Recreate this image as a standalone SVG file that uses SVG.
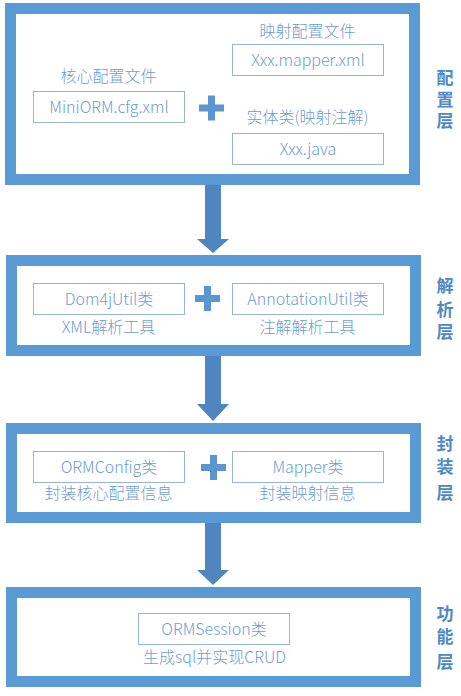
<svg xmlns="http://www.w3.org/2000/svg" width="461" height="696" viewBox="0 0 461 696">
<style>
.layer{fill:#ffffff;stroke:#5B9BD5;stroke-width:11}
.box{fill:#ffffff;stroke:#98B4D6;stroke-width:1}
.t{font-family:"Noto Sans CJK SC","Liberation Sans",sans-serif;font-size:16px;fill:#6F9CCF;text-anchor:middle;font-weight:300}
.side{font-family:"Noto Sans CJK SC","Liberation Sans",sans-serif;font-size:17px;fill:#4F88C6;text-anchor:middle;font-weight:bold}
.plus{fill:#5B96D0}
.arrow{fill:#4F86C0}
</style>
<rect width="461" height="696" fill="#ffffff"/>
<g id="connectors">
<polygon class="arrow" points="205,185 221,185 221,239 229,239 213,253 197,239 205,239"/>
<polygon class="arrow" points="205,356 221,356 221,404 229,404 213,421 197,404 205,404"/>
<polygon class="arrow" points="205,523 221,523 221,570 229,570 213,585 197,570 205,570"/>
</g>
<g id="layer-config">
<rect class="layer" x="10.5" y="8.5" width="404" height="171"/>
<text class="side" x="445" y="84">配</text>
<text class="side" x="445" y="106">置</text>
<text class="side" x="445" y="127">层</text>
</g>
<g id="core-config">
<text class="t" x="108.5" y="82">核心配置文件</text>
<rect class="box" x="33.5" y="91.5" width="151" height="31"/>
<text class="t" x="109" y="113">MiniORM.cfg.xml</text>
</g>
<g id="plus1"><rect class="plus" x="199" y="104.5" width="25" height="7"/><rect class="plus" x="208" y="95.5" width="7" height="25"/></g>
<g id="mapper-xml">
<text class="t" x="307.5" y="37">映射配置文件</text>
<rect class="box" x="232.5" y="44.5" width="151" height="31"/>
<text class="t" x="308" y="66">Xxx.mapper.xml</text>
</g>
<g id="entity">
<text class="t" x="307.5" y="123">实体类(映射注解)</text>
<rect class="box" x="232.5" y="133.5" width="151" height="31"/>
<text class="t" x="308" y="155">Xxx.java</text>
</g>
<g id="layer-parse">
<rect class="layer" x="11.5" y="260.5" width="404" height="90"/>
<text class="side" x="445" y="292">解</text>
<text class="side" x="445" y="316">析</text>
<text class="side" x="445" y="338">层</text>
</g>
<g id="dom4j">
<rect class="box" x="33.5" y="283.5" width="151" height="31"/>
<text class="t" x="109" y="305">Dom4jUtil类</text>
<text class="t" x="108.5" y="333">XML解析工具</text>
</g>
<g id="plus2"><rect class="plus" x="195" y="295" width="25" height="7"/><rect class="plus" x="204" y="286" width="7" height="25"/></g>
<g id="annotation">
<rect class="box" x="232.5" y="283.5" width="151" height="31"/>
<text class="t" x="308" y="305">AnnotationUtil类</text>
<text class="t" x="307.5" y="333">注解解析工具</text>
</g>
<g id="layer-wrap">
<rect class="layer" x="11.5" y="428.5" width="404" height="89"/>
<text class="side" x="445" y="450">封</text>
<text class="side" x="445" y="473">装</text>
<text class="side" x="445" y="499">层</text>
</g>
<g id="ormconfig">
<rect class="box" x="33.5" y="451.5" width="151" height="31"/>
<text class="t" x="109" y="473">ORMConfig类</text>
<text class="t" x="108.5" y="499">封装核心配置信息</text>
</g>
<g id="plus3"><rect class="plus" x="201" y="464" width="25" height="7"/><rect class="plus" x="210" y="455" width="7" height="25"/></g>
<g id="mapper">
<rect class="box" x="232.5" y="451.5" width="151" height="31"/>
<text class="t" x="308" y="473">Mapper类</text>
<text class="t" x="307.5" y="499">封装映射信息</text>
</g>
<g id="layer-func">
<rect class="layer" x="11.5" y="592.5" width="404" height="89"/>
<text class="side" x="445" y="620">功</text>
<text class="side" x="445" y="643">能</text>
<text class="side" x="445" y="668">层</text>
</g>
<g id="ormsession">
<rect class="box" x="138.5" y="613.5" width="151" height="31"/>
<text class="t" x="214" y="635">ORMSession类</text>
<text class="t" x="214.5" y="663">生成sql并实现CRUD</text>
</g>
</svg>
